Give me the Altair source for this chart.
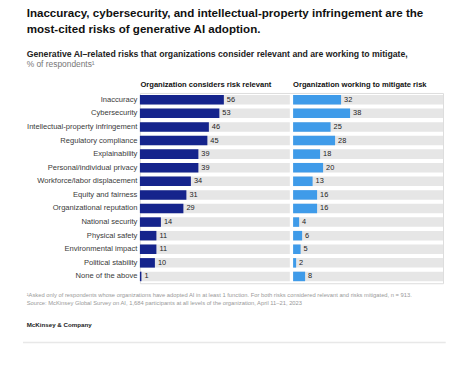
import altair as alt
import pandas as pd

categories = [
    "Inaccuracy", "Cybersecurity", "Intellectual-property infringement",
    "Regulatory compliance", "Explainability", "Personal/individual privacy",
    "Workforce/labor displacement", "Equity and fairness",
    "Organizational reputation", "National security", "Physical safety",
    "Environmental impact", "Political stability", "None of the above",
]
relevant = [56, 53, 46, 45, 39, 39, 34, 31, 29, 14, 11, 11, 10, 1]
mitigating = [32, 38, 25, 28, 18, 20, 13, 16, 16, 4, 6, 5, 2, 8]
panel_titles = ["Organization considers risk relevant",
                "Organization working to mitigate risk"]
title_lines = ["Inaccuracy, cybersecurity, and intellectual-property infringement are the",
               "most-cited risks of generative AI adoption."]
subtitle_bold = "Generative AI\u2013related risks that organizations consider relevant and are working to mitigate,"
subtitle_unit = "% of respondents\u00b9"
footnotes = [
    "\u00b9Asked only of respondents whose organizations have adopted AI in at least 1 function. For both risks considered relevant and risks mitigated, n = 913.",
    " Source: McKinsey Global Survey on AI, 1,684 participants at all levels of the organization, April 11\u201321, 2023",
]
brand = "McKinsey & Company"
SCALE_MAX = 100

df = pd.DataFrame({"risk": categories, "relevant": relevant, "mitigating": mitigating,
                   "track": [SCALE_MAX] * len(categories)})

FONT = "Liberation Sans"
NAVY = "#15248c"
LIGHT = "#3f9be9"
GREY = "#e6e6e6"

W = 303.3
H = 190.4
left_range = [0, 150]
right_range = [153.3, 303.3]

y_enc = alt.Y("risk:N", sort=categories, title=None,
              scale=alt.Scale(paddingInner=0.3, paddingOuter=0.15),
              axis=alt.Axis(domain=False, ticks=False, labelPadding=3,
                            labelFont=FONT, labelFontSize=7.6, labelColor="#3a3a3a",
                            labelLimit=200))

def xs(field, rng):
    return alt.X(f"{field}:Q", axis=None,
                 scale=alt.Scale(domain=[0, SCALE_MAX], range=rng, nice=False, zero=True))

base = alt.Chart(df)

bg_left = base.mark_bar(color=GREY).encode(x=xs("track", left_range), y=y_enc)
bg_right = base.mark_bar(color=GREY).encode(x=xs("track", right_range), y=y_enc)
bar_left = base.mark_bar(color=NAVY).encode(x=xs("relevant", left_range), y=y_enc)
bar_right = base.mark_bar(color=LIGHT).encode(x=xs("mitigating", right_range), y=y_enc)
lab_left = base.mark_text(align="left", dx=3, font=FONT, fontSize=7.4, color="#222").encode(
    x=xs("relevant", left_range), y=y_enc, text="relevant:Q")
lab_right = base.mark_text(align="left", dx=3, font=FONT, fontSize=7.4, color="#222").encode(
    x=xs("mitigating", right_range), y=y_enc, text="mitigating:Q")

one = alt.Data(values=[{"a": 1}])

def txt(text, x, y, size, weight="normal", color="#111"):
    return alt.Chart(one).mark_text(align="left", baseline="alphabetic", font=FONT,
                                    fontSize=size, fontWeight=weight, color=color).encode(
        x=alt.value(x), y=alt.value(y), text=alt.value(text))

ox = -113.3
oy = -92.9
annotations = [
    txt(panel_titles[0], 0.5, -6, 7.6, "bold"),
    txt(panel_titles[1], 153.3, -6, 7.6, "bold"),
    txt(title_lines[0], ox, 17.3 + oy, 11.6, "bold"),
    txt(title_lines[1], ox, 33.3 + oy, 11.6, "bold"),
    txt(subtitle_bold, ox, 57 + oy, 8.7, "bold", "#222"),
    txt(subtitle_unit, ox, 66.5 + oy, 8.4, "normal", "#777"),
    txt(footnotes[0], ox, 297.5 + oy, 5.8, "normal", "#999"),
    txt(footnotes[1], ox, 305 + oy, 5.8, "normal", "#999"),
    txt(brand, ox, 327.5 + oy, 6.2, "bold", "#222"),
]
rule = alt.Chart(one).mark_rule(color="#e8e8e8", strokeWidth=1.5).encode(
    x=alt.value(-117), x2=alt.value(306), y=alt.value(342.5 + oy))

chart = alt.layer(bg_left, bg_right, bar_left, bar_right, lab_left, lab_right,
                  *annotations, rule).resolve_scale(x="independent").properties(
    width=W, height=H,
    autosize=alt.AutoSizeParams(type="none"),
    padding={"left": 132, "top": 84.9, "right": 23, "bottom": 74.7},
).configure_view(stroke=None).configure(background="white")

chart.save("out.html", embed_options={"renderer": "svg", "actions": False})
